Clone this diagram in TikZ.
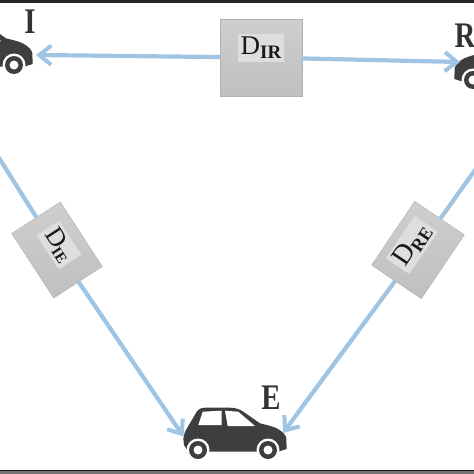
\documentclass[tikz,border=0pt]{standalone}
\usepackage{fontspec}
\setmainfont{Liberation Serif}
\usetikzlibrary{arrows.meta}

\definecolor{linkblue}{HTML}{A0C4E4}
\definecolor{cargrey}{HTML}{3E3E3E}
\newcommand{\dlabel}[3]{{\fontsize{#1}{#1}\selectfont D}{\raisebox{-4pt}{\fontsize{#2}{#2}\selectfont\bfseries #3}}}

\tikzset{
  delaybox/.style={draw=black!30, top color=black!19, bottom color=black!25, inner sep=0pt},
  patch/.style={fill=black!13, inner sep=3pt, text=black!90},
  station/.style={font=\fontsize{36}{36}\selectfont\bfseries, text=black!80, xscale=.8, inner sep=0pt},
  link/.style={draw=linkblue, line width=4.2pt, -{Straight Barb[length=12pt,width=19pt,line width=4pt]}},
  plainlink/.style={draw=linkblue, line width=4.2pt},
  car/.pic={
    \fill[cargrey] (-84.7,-11.7) -- (-83,-18.3) -- (-71.3,-38.3) .. controls (-68,-42) and (-66,-42.3) .. (-62,-42.3)
      -- (-38,-42.3) .. controls (-32,-42.3) and (-28,-40.5) .. (-24.7,-38.3) -- (-8,-26.7)
      .. controls (-2,-25) and (4,-24) .. (8.7,-21.7) .. controls (14,-19) and (18,-15) .. (18.3,-11.7)
      -- (18.7,-1) -- (10,1.7) -- (-79.7,1.7) -- (-84,-5) -- cycle;
    \fill[white] (-69.7,-25) -- (-65.3,-38.3) -- (-46.3,-39.3) -- (-46.3,-25) -- cycle;
    \fill[white] (-43,-39.3) -- (-29.7,-38.3) -- (-13,-24) -- (-40.3,-24) -- cycle;
    \foreach \wx in {0,-70} {
      \fill[white] (\wx,0) circle (11.5);
      \fill[cargrey] (\wx,0) circle (9);
      \fill[white] (\wx,0) circle (4.5);
    }
  }
}

\begin{document}
\begin{tikzpicture}[x=1pt,y=-1pt]
  \useasboundingbox (0,0) rectangle (474,474);
  \clip (0,0) rectangle (474,474);
  \fill[white] (0,0) rectangle (474,474);
  \fill[black!85] (0,0) rectangle (474,2.5);
  \fill[black!55] (0,470) rectangle (474,474);
  \fill[black!90] (0,470) rectangle (474,471.3);

  \pic at (14,65) {car};
  \pic[xscale=-1] at (473,80) {car};
  \pic at (268,450) {car};

  \node[station] (labelI) at (30,22) {I};
  \node[station] (labelR) at (465,36) {R};
  \node[station] (labelE) at (271,398) {E};

  \node[delaybox, minimum width=82pt, minimum height=77pt] (boxIR) at (261,57.5) {};
  \node[delaybox, minimum width=77pt, minimum height=58pt, rotate=-57] (boxIE) at (57,250) {};
  \node[delaybox, minimum width=77pt, minimum height=60pt, rotate=56] (boxRE) at (418,250) {};

  \node[patch] (dIR) at (261,48) {\dlabel{27}{19}{IR}};
  \node[patch, rotate=-57] (dIE) at (59,245) {\dlabel{26}{15}{IE}};
  \node[patch, rotate=56] (dRE) at (412,245) {\dlabel{28}{18}{RE}};

  \coordinate (tipI) at (36,55);
  \coordinate (tipR) at (460,62);
  \coordinate (tipE) at (183.5,436.5);
  \coordinate (tipF) at (283,433);
  \coordinate (startIE) at (-6,150);
  \coordinate (startRE) at (480,163);

  \draw[link] (boxIR) -- (tipI);
  \draw[link] (boxIR) -- (tipR);
  \draw[plainlink] (startIE) -- (boxIE);
  \draw[link] (boxIE) -- (tipE);
  \draw[plainlink] (startRE) -- (boxRE);
  \draw[link] (boxRE) -- (tipF);
\end{tikzpicture}
\end{document}
